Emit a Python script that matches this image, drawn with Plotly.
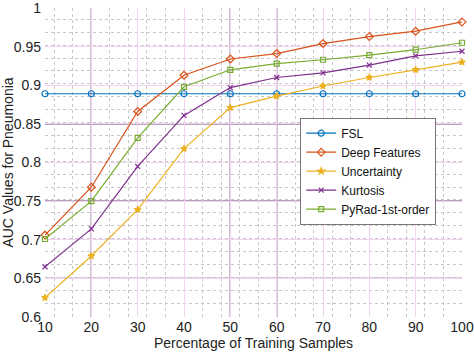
import plotly.graph_objects as go

x = [10, 20, 30, 40, 50, 60, 70, 80, 90, 100]
fsl = [0.889] * 10
deep = [0.706, 0.768, 0.866, 0.913, 0.934, 0.941, 0.954, 0.963, 0.970, 0.982]
unc = [0.625, 0.679, 0.739, 0.818, 0.871, 0.886, 0.899, 0.910, 0.920, 0.930]
kurt = [0.665, 0.714, 0.795, 0.861, 0.897, 0.910, 0.916, 0.926, 0.938, 0.944]
pyrad = [0.701, 0.750, 0.832, 0.898, 0.920, 0.928, 0.933, 0.939, 0.946, 0.955]

xticks = [10, 20, 30, 40, 50, 60, 70, 80, 90, 100]
yticks = [0.6, 0.65, 0.7, 0.75, 0.8, 0.85, 0.9, 0.95, 1]
ytick_labels = ["0.6", "0.65", "0.7", "0.75", "0.8", "0.85", "0.9", "0.95", "1"]
dark_x = [20, 50, 60]
dark_y = [0.65, 0.75, 0.85]

series = [
    ("FSL", fsl, "#0072BD", "circle-open", 6),
    ("Deep Features", deep, "#D95319", "diamond-open", 6),
    ("Uncertainty", unc, "#EDB120", "star", 5),
    ("Kurtosis", kurt, "#7E2F8E", "x-thin-open", 5),
    ("PyRad-1st-order", pyrad, "#77AC30", "square-open", 5),
]

fig = go.Figure()
for name, ys, col, sym, sz in series:
    fig.add_trace(go.Scatter(
        x=x, y=ys, name=name, mode="lines+markers",
        line=dict(color=col, width=1.2),
        marker=dict(symbol=sym, size=sz, color=col, line=dict(color=col, width=1.2)),
        cliponaxis=False,
    ))

for xv in dark_x:
    fig.add_shape(type="line", x0=xv, x1=xv, y0=0, y1=1, xref="x", yref="paper",
                  line=dict(color="#6a4872", width=1.3), layer="between")
for yv in dark_y:
    fig.add_shape(type="line", x0=0, x1=1, y0=yv, y1=yv, xref="paper", yref="y",
                  line=dict(color="#6a4872", width=1.3), layer="between")

font = "Liberation Sans, Arial, sans-serif"
fig.update_layout(
    width=474, height=353,
    margin=dict(l=45, r=12, t=8, b=36),
    paper_bgcolor="white", plot_bgcolor="white",
    font=dict(family=font, size=14, color="#222"),
    showlegend=True,
    legend=dict(x=0.612, y=0.645, xanchor="left", yanchor="top",
                bgcolor="white", bordercolor="#777", borderwidth=1,
                font=dict(size=12, color="#111"), tracegroupgap=0, itemwidth=30),
    xaxis=dict(range=[10, 100], tickvals=xticks, ticktext=[str(t) for t in xticks],
               showgrid=True, gridcolor="#f0d4f0", gridwidth=1, automargin=False,
               minor=dict(dtick=4, showgrid=True, gridcolor="#c8c8c8", griddash="dot", gridwidth=1),
               zeroline=False, showline=False, ticks="",
               title=dict(text="Percentage of Training Samples", font=dict(size=14), standoff=2),
               tickfont=dict(size=14)),
    yaxis=dict(range=[0.6, 1.0], tickvals=yticks, ticktext=ytick_labels,
               showgrid=True, gridcolor="#f0d4f0", gridwidth=1, automargin=False,
               minor=dict(dtick=0.0167, showgrid=True, gridcolor="#c8c8c8", griddash="dot", gridwidth=1),
               zeroline=False, showline=False, ticks="", ticklabelstandoff=3,
               ticklabeloverflow="allow",
               title=dict(text="AUC Values for Pneumonia", font=dict(size=14), standoff=2),
               tickfont=dict(size=14)),
)

fig.write_html("out.html")
